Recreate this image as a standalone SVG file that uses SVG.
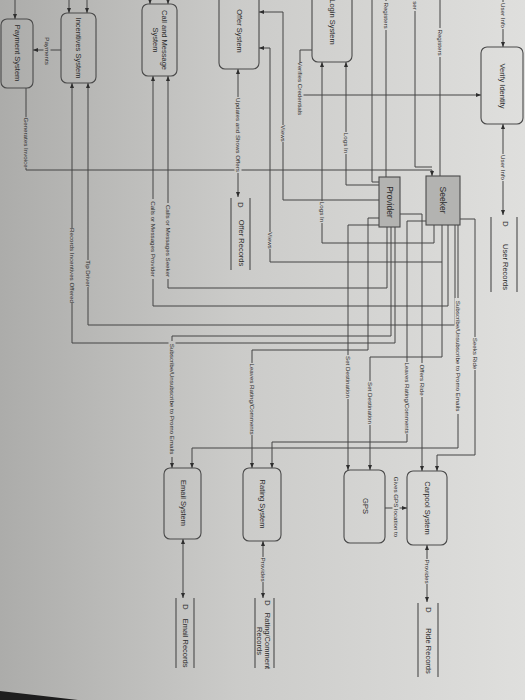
<svg xmlns="http://www.w3.org/2000/svg" width="525" height="700" viewBox="0 0 525 700">
<defs>
<linearGradient id="bg" gradientUnits="userSpaceOnUse" x1="0" y1="0" x2="525" y2="0">
<stop offset="0" stop-color="#acacaa"/>
<stop offset="0.45" stop-color="#cbcbc9"/>
<stop offset="1" stop-color="#dfdfdd"/>
</linearGradient>
<marker id="ah" viewBox="0 0 10 10" refX="10" refY="5" markerWidth="5" markerHeight="5" orient="auto-start-reverse">
<path d="M0,1 L10,5 L0,9 z" fill="#2e2e2e"/>
</marker>
<style>
.nb{fill:none;stroke:#4a4a4a;stroke-width:1.1}
.ent{fill:#b3b3b1;stroke:#4a4a4a;stroke-width:1.1}
.nt{font-family:"Liberation Sans",Arial,sans-serif;font-size:7.5px;fill:#2b2b2b;text-anchor:middle;dominant-baseline:central}
.et{font-family:"Liberation Sans",Arial,sans-serif;font-size:8.5px;fill:#2b2b2b;text-anchor:middle;dominant-baseline:central}
.cl{font-family:"Liberation Sans",Arial,sans-serif;font-size:6.2px;fill:#2b2b2b;text-anchor:middle;dominant-baseline:central}
.ds{stroke:#4a4a4a;stroke-width:1.1}
.c{fill:none;stroke:#444;stroke-width:1}
.e{marker-end:url(#ah)}
.b{marker-start:url(#ah);marker-end:url(#ah)}
.lb{fill:url(#bg)}
</style>
</defs>
<rect x="0" y="0" width="525" height="700" fill="url(#bg)"/>
<polygon points="0,691 78,700 0,700" fill="#1e1e1e"/>

<g id="connectors">
<path class="c e" d="M503,-5 V47"/>
<path class="c b" d="M503,124 V215"/>
<path class="c e" d="M312,50 H300 V95 H481"/>
<path class="c e" d="M434,225 V243 H322 V62"/>
<path class="c e" d="M379,185 H346 V62"/>
<path class="c e" d="M442,225 V262 H270 V48 H259"/>
<path class="c e" d="M379,200 H283 V12 H259"/>
<path class="c b" d="M238,69 V197"/>
<path class="c e" d="M387,227 V288 H168 V76"/>
<path class="c e" d="M448,225 V306 H153 V76"/>
<path class="c e" d="M455,225 V325 H88 V83"/>
<path class="c e" d="M395,227 V343 H72 V83"/>
<path class="c e" d="M391,227 V336 H172 V468"/>
<path class="c e" d="M379,218 H368 V350 H252 V468"/>
<path class="c e" d="M379,225 H348 V470"/>
<path class="c e" d="M442,262 V357 H370 V470"/>
<path class="c e" d="M400,214 H422 V471"/>
<path class="c e" d="M426,221 H407 V442 H272 V468"/>
<path class="c e" d="M458,225 V448 H192 V468"/>
<path class="c e" d="M460,219 H475 V455 H437 V471"/>
<path class="c e" d="M385,508 H407"/>
<path class="c b" d="M427,545 V602"/>
<path class="c b" d="M263,541 V598"/>
<path class="c b" d="M183,539 V598"/>
<path class="c e" d="M61,50 H33"/>
<path class="c e" d="M26,88 V170 H432 V176"/>
<path class="c" d="M415,-5 V167 H432"/>
<path class="c" d="M440,-5 V176"/>
<path class="c" d="M386,-5 V177"/>
<path class="c" d="M372,-5 V182 H379"/>
<path class="c e" d="M15,-5 V19"/>
<path class="c e" d="M69,-5 V13"/>
<path class="c e" d="M87,-5 V13"/>
<path class="c e" d="M150,-5 V4"/>
<path class="c e" d="M168,-5 V4"/>
</g>

<g id="connector-labels">
<rect class="lb" x="499.5" y="2" width="7" height="27"/><text class="cl" transform="translate(503,15.5) rotate(90)">User Info</text>
<rect class="lb" x="499.5" y="154" width="7" height="27"/><text class="cl" transform="translate(503,167.5) rotate(90)">User Info</text>
<rect class="lb" x="411.5" y="0" width="7" height="11"/><text class="cl" transform="translate(415,5.5) rotate(90)">ser</text>
<rect class="lb" x="296.5" y="63" width="7" height="51"/><text class="cl" transform="translate(300,88.5) rotate(90)">Verifies Credentials</text>
<rect class="lb" x="318.5" y="201" width="7" height="22"/><text class="cl" transform="translate(322,212) rotate(90)">Logs In</text>
<rect class="lb" x="342.5" y="132" width="7" height="22"/><text class="cl" transform="translate(346,143) rotate(90)">Logs In</text>
<rect class="lb" x="266.5" y="232" width="7" height="17"/><text class="cl" transform="translate(270,240.5) rotate(90)">Views</text>
<rect class="lb" x="279.5" y="125" width="7" height="17"/><text class="cl" transform="translate(283,133.5) rotate(90)">Views</text>
<rect class="lb" x="234.5" y="97" width="7" height="76"/><text class="cl" transform="translate(238,135) rotate(90)">Updates and Shows Offers</text>
<rect class="lb" x="164.5" y="203" width="7" height="76"/><text class="cl" transform="translate(168,241) rotate(90)">Calls or Messages Seeker</text>
<rect class="lb" x="149.5" y="199" width="7" height="80"/><text class="cl" transform="translate(153,239) rotate(90)">Calls or Messages Provider</text>
<rect class="lb" x="84.5" y="260" width="7" height="27"/><text class="cl" transform="translate(88,273.5) rotate(90)">Tip Driver</text>
<rect class="lb" x="68.5" y="228" width="7" height="75"/><text class="cl" transform="translate(72,265.5) rotate(90)">Records Incentives Offered</text>
<rect class="lb" x="168.5" y="341" width="7" height="116"/><text class="cl" transform="translate(172,399) rotate(90)">Subscribe/Unsubscribe to Promo Emails</text>
<rect class="lb" x="248.5" y="363" width="7" height="72"/><text class="cl" transform="translate(252,399) rotate(90)">Leaves Rating/Comments</text>
<rect class="lb" x="344.5" y="355" width="7" height="44"/><text class="cl" transform="translate(348,377) rotate(90)">Set Destination</text>
<rect class="lb" x="366.5" y="381" width="7" height="44"/><text class="cl" transform="translate(370,403) rotate(90)">Set Destination</text>
<rect class="lb" x="418.5" y="363" width="7" height="34"/><text class="cl" transform="translate(422,380) rotate(90)">Offers Ride</text>
<rect class="lb" x="403.5" y="362" width="7" height="72"/><text class="cl" transform="translate(407,398) rotate(90)">Leaves Rating/Comments</text>
<rect class="lb" x="454.5" y="298" width="7" height="116"/><text class="cl" transform="translate(458,356) rotate(90)">Subscribe/Unsubscribe to Promo Emails</text>
<rect class="lb" x="471.5" y="337" width="7" height="33"/><text class="cl" transform="translate(475,353.5) rotate(90)">Seeks Ride</text>
<rect class="lb" x="392.5" y="474" width="7" height="66"/><text class="cl" transform="translate(396,507) rotate(90)">Gives GPS location to</text>
<rect class="lb" x="423.5" y="559" width="7" height="25"/><text class="cl" transform="translate(427,571.5) rotate(90)">Provides</text>
<rect class="lb" x="259.5" y="557" width="7" height="25"/><text class="cl" transform="translate(263,569.5) rotate(90)">Provides</text>
<rect class="lb" x="43.5" y="38" width="7" height="26"/><text class="cl" transform="translate(47,51) rotate(90)">Payments</text>
<rect class="lb" x="22.5" y="117" width="7" height="51"/><text class="cl" transform="translate(26,142.5) rotate(90)">Generates Invoice</text>
<rect class="lb" x="436.5" y="28" width="7" height="29"/><text class="cl" transform="translate(440,42.5) rotate(90)">Registers</text>
<rect class="lb" x="382.5" y="1" width="7" height="29"/><text class="cl" transform="translate(386,15.5) rotate(90)">Registers</text>
</g>

<g id="payment-system"><rect class="nb" x="1" y="19" width="32" height="69" rx="6"/><text class="nt" transform="translate(17,53) rotate(90)">Payment System</text></g>
<g id="incentives-system"><rect class="nb" x="61" y="13" width="35" height="70" rx="6"/><text class="nt" transform="translate(78,48) rotate(90)">Incentives System</text></g>
<g id="call-message-system"><rect class="nb" x="142" y="4" width="35" height="72" rx="6"/><text class="nt" transform="translate(164,40) rotate(90)">Call and Message</text><text class="nt" transform="translate(155,40) rotate(90)">System</text></g>
<g id="offer-system"><rect class="nb" x="219" y="-6" width="40" height="75" rx="6"/><text class="nt" transform="translate(239,31) rotate(90)">Offer System</text></g>
<g id="login-system"><rect class="nb" x="312" y="-8" width="40" height="70" rx="6"/><text class="nt" transform="translate(332,22) rotate(90)">Login System</text></g>
<g id="verify-identity"><rect class="nb" x="481" y="47" width="42" height="77" rx="6"/><text class="nt" transform="translate(502,86) rotate(90)">Verify Identity</text></g>
<g id="seeker"><rect class="ent" x="426" y="176" width="34" height="49"/><text class="et" transform="translate(443,200) rotate(90)">Seeker</text></g>
<g id="provider"><rect class="ent" x="379" y="177" width="21" height="50"/><text class="et" transform="translate(390,202) rotate(90)">Provider</text></g>
<g id="gps"><rect class="nb" x="344" y="470" width="41" height="73" rx="6"/><text class="nt" transform="translate(365,506) rotate(90)">GPS</text></g>
<g id="carpool-system"><rect class="nb" x="407" y="471" width="40" height="74" rx="6"/><text class="nt" transform="translate(427,508) rotate(90)">Carpool System</text></g>
<g id="rating-system"><rect class="nb" x="243" y="468" width="38" height="73" rx="6"/><text class="nt" transform="translate(262,504) rotate(90)">Rating System</text></g>
<g id="email-system"><rect class="nb" x="164" y="468" width="37" height="71" rx="6"/><text class="nt" transform="translate(183,503) rotate(90)">Email System</text></g>

<g id="user-records"><line class="ds" x1="491" y1="217" x2="491" y2="292"/><line class="ds" x1="517" y1="217" x2="517" y2="292"/><text class="nt" transform="translate(505,224) rotate(90)">D</text><text class="nt" transform="translate(505,267) rotate(90)">User Records</text></g>
<g id="offer-records"><line class="ds" x1="231" y1="198" x2="231" y2="270"/><line class="ds" x1="250" y1="198" x2="250" y2="270"/><text class="nt" transform="translate(240,205) rotate(90)">D</text><text class="nt" transform="translate(241,243) rotate(90)">Offer Records</text></g>
<g id="ride-records"><line class="ds" x1="418" y1="603" x2="418" y2="677"/><line class="ds" x1="438" y1="603" x2="438" y2="677"/><text class="nt" transform="translate(428,610) rotate(90)">D</text><text class="nt" transform="translate(428,651) rotate(90)">Ride Records</text></g>
<g id="rating-comment-records"><line class="ds" x1="255" y1="598" x2="255" y2="668"/><line class="ds" x1="274" y1="598" x2="274" y2="668"/><text class="nt" transform="translate(267,603) rotate(90)">D</text><text class="nt" transform="translate(267,641) rotate(90)">Rating/Comment</text><text class="nt" transform="translate(259,641) rotate(90)">Records</text></g>
<g id="email-records"><line class="ds" x1="176" y1="598" x2="176" y2="668"/><line class="ds" x1="194" y1="598" x2="194" y2="668"/><text class="nt" transform="translate(185,607) rotate(90)">D</text><text class="nt" transform="translate(185,643) rotate(90)">Email Records</text></g>
</svg>
